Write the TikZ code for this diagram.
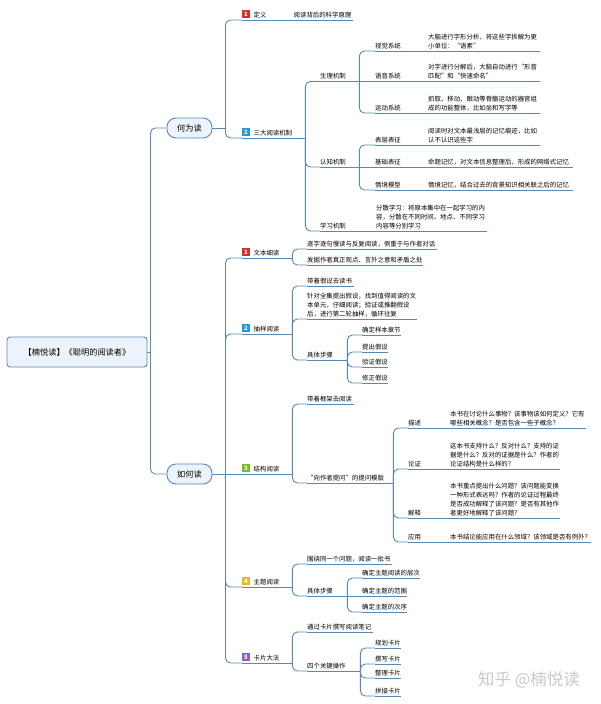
\documentclass[tikz,border=0pt]{standalone}
\usepackage{fontspec}
\setmainfont{Noto Sans CJK SC}
\definecolor{lc}{RGB}{88,136,180}
\definecolor{bgb}{RGB}{236,243,250}
\definecolor{bda}{RGB}{205,50,40}
\definecolor{bdb}{RGB}{40,150,215}
\definecolor{bdc}{RGB}{125,185,45}
\definecolor{bdd}{RGB}{240,180,40}
\definecolor{bde}{RGB}{140,95,200}
\definecolor{wmc}{RGB}{200,200,200}
\newcommand{\nbadge}[2]{\raisebox{-0.8pt}{\setlength{\fboxsep}{0pt}\colorbox{#1}{\makebox[7.5pt][c]{\rule{0pt}{7.5pt}\raisebox{1.5pt}{\color{white}\fontsize{6}{6}\selectfont\bfseries #2}}}}\hspace{4pt}}
\newcommand{\mlt}[2]{\parbox[b]{#1}{\raggedright #2}}
\tikzset{
  conn/.style={draw=lc, line width=0.9pt},
  rc/.style={rounded corners=5pt},
  lbl/.style={anchor=south west, inner xsep=0pt, inner ysep=1.7pt, text depth=1pt,
    font=\fontsize{6.4}{8.8}\selectfont,
    append after command={(\tikzlastnode.south west) edge[conn] (\tikzlastnode.south east)}},
  rootbox/.style={draw=lc, fill=bgb, rounded corners=3pt, minimum width=140pt,
    minimum height=30pt, inner sep=0pt, line width=0.9pt, font=\fontsize{8.2}{10}\selectfont},
  topbox/.style={draw=lc, fill=bgb, rounded corners=9pt, minimum width=45pt,
    minimum height=20pt, inner sep=0pt, line width=0.9pt, font=\fontsize{8.2}{10}\selectfont},
}
\begin{document}
\begin{tikzpicture}[x=1pt,y=-1pt]
\useasboundingbox (0,0) rectangle (600,704);

% root and top level
\node[rootbox] (root) at (77,352) {【楠悦读】《聪明的阅读者》};
\node[topbox] (hw) at (189.5,128) {何为读};
\node[topbox] (rh) at (189.5,474) {如何读};
\draw[conn] (root.east) -- ++(3,0) coordinate (rsp);
\draw[conn,rc] (rsp) |- (hw.west);
\draw[conn,rc] (rsp) |- (rh.west);

% ===== 何为读 =====
\draw[conn] (hw.east) -- ++(13,0) coordinate (hwsp);
\node[lbl,text width=48pt] (dy) at (242,20) {\nbadge{bda}{1}定义};
\node[lbl,text width=59.5pt] (dyk) at (293.5,20) {阅读背后的科学原理};
\draw[conn,rc] (hwsp) |- (dy.south west);
\draw[conn] (dy.south east) -- (dyk.south west);

\node[lbl,text width=63pt] (sd) at (242,138) {\nbadge{bdb}{2}三大阅读机制};
\draw[conn,rc] (hwsp) |- (sd.south west);

\node[lbl,text width=39pt] (sl) at (320,81.5) {生理机制};
\node[lbl,text width=39pt] (rz) at (320,167) {认知机制};
\node[lbl,text width=56pt] (xx) at (320,231) {学习机制};
\draw[conn,rc] (sd.south east) |- (sl.south west);
\draw[conn,rc] (sd.south east) |- (rz.south west);
\draw[conn,rc] (sd.south east) |- (xx.south west);

\node[lbl,text width=52pt] (sj) at (375,51) {视觉系统};
\node[lbl] (sjk) at (428,51) {\mlt{112pt}{大脑进行字形分析，将这些字拆解为更\\小单位：“语素”}};
\node[lbl,text width=52pt] (yy) at (375,81.5) {语音系统};
\node[lbl] (yyk) at (428,81.5) {\mlt{112pt}{对字进行分解后，大脑自动进行“形音\\匹配”和“快速命名”}};
\node[lbl,text width=52pt] (yd) at (375,113) {运动系统};
\node[lbl] (ydk) at (428,113) {\mlt{112pt}{抓取、移动、眼动等骨骼运动的器官组\\成的功能整体，比如坐和写字等}};
\draw[conn,rc] (sl.south east) |- (sj.south west);
\draw[conn] (sl.south east) -- (yy.south west);
\draw[conn,rc] (sl.south east) |- (yd.south west);
\draw[conn] (sj.south east) -- (sjk.south west);
\draw[conn] (yy.south east) -- (yyk.south west);
\draw[conn] (yd.south east) -- (ydk.south west);

\node[lbl,text width=52pt] (bc) at (375,145) {表层表征};
\node[lbl] (bck) at (428,145) {\mlt{112pt}{阅读时对文本最浅层的记忆痕迹，比如\\认不认识这些字}};
\node[lbl,text width=52pt] (jc) at (375,167) {基础表征};
\node[lbl,text width=145pt] (jck) at (428,167) {命题记忆，对文本信息整理后，形成的网络式记忆};
\node[lbl,text width=52pt] (qj) at (375,190) {情境模型};
\node[lbl,text width=145pt] (qjk) at (428,190) {情境记忆，结合过去的背景知识相关联之后的记忆};
\draw[conn,rc] (rz.south east) |- (bc.south west);
\draw[conn] (rz.south east) -- (jc.south west);
\draw[conn,rc] (rz.south east) |- (qj.south west);
\draw[conn] (bc.south east) -- (bck.south west);
\draw[conn] (jc.south east) -- (jck.south west);
\draw[conn] (qj.south east) -- (qjk.south west);

\node[lbl] (xxk) at (376,231) {\mlt{111pt}{分散学习：将原本集中在一起学习的内\\容，分散在不同时间、地点、不同学习\\内容等分别学习}};
\draw[conn] (xx.south east) -- (xxk.south west);

% ===== 如何读 =====
\draw[conn] (rh.east) -- ++(13,0) coordinate (rhsp);

\node[lbl,text width=50pt] (wb) at (242,258) {\nbadge{bda}{1}文本细读};
\node[lbl,text width=130pt] (wba) at (307,249) {逐字逐句慢读与反复阅读，侧重于与作者对话};
\node[lbl,text width=116pt] (wbb) at (307,265) {发掘作者真正观点、言外之意和矛盾之处};
\draw[conn,rc] (rhsp) |- (wb.south west);
\draw[conn,rc] (wb.south east) |- (wba.south west);
\draw[conn,rc] (wb.south east) |- (wbb.south west);

\node[lbl,text width=50pt] (cy) at (242,334) {\nbadge{bdb}{2}抽样阅读};
\node[lbl,text width=47pt] (cya) at (307,286) {带着假设去读书};
\node[lbl] (cyb) at (307,319) {\mlt{110pt}{针对全集提出假设，找到值得阅读的文\\本单元，仔细阅读；验证或推翻假设\\后，进行第二轮抽样，循环往复}};
\node[lbl,text width=40pt] (cyc) at (307,360) {具体步骤};
\draw[conn,rc] (rhsp) |- (cy.south west);
\draw[conn,rc] (cy.south east) |- (cya.south west);
\draw[conn,rc] (cy.south east) |- (cyb.south west);
\draw[conn,rc] (cy.south east) |- (cyc.south west);
\node[lbl,text width=38.5pt] (sa) at (362,335) {确定样本章节};
\node[lbl,text width=26pt] (sb) at (362,352) {提出假设};
\node[lbl,text width=26pt] (sc) at (362,367) {验证假设};
\node[lbl,text width=26pt] (se) at (362,383) {修正假设};
\draw[conn,rc] (cyc.south east) |- (sa.south west);
\draw[conn,rc] (cyc.south east) |- (sb.south west);
\draw[conn,rc] (cyc.south east) |- (sc.south west);
\draw[conn,rc] (cyc.south east) |- (se.south west);

\node[lbl,text width=50pt] (jg) at (242,474) {\nbadge{bdc}{3}结构阅读};
\node[lbl,text width=47pt] (jga) at (307,404) {带着框架去阅读};
\node[lbl,text width=86pt] (jgb) at (307,483) {“向作者提问”的提问模版};
\draw[conn] (rhsp) -- (jg.south west);
\draw[conn,rc] (jg.south east) |- (jga.south west);
\draw[conn,rc] (jg.south east) |- (jgb.south west);
\node[lbl,text width=42pt] (ms) at (408,428) {描述};
\node[lbl] (msk) at (450,428) {\mlt{136pt}{本书在讨论什么事物？该事物该如何定义？它有\\哪些相关概念？是否包含一些子概念？}};
\node[lbl,text width=42pt] (lz) at (408,469) {论证};
\node[lbl] (lzk) at (450,469) {\mlt{110pt}{这本书支持什么？反对什么？支持的证\\据是什么？反对的证据是什么？作者的\\论证结构是什么样的？}};
\node[lbl,text width=42pt] (js) at (408,518) {解释};
\node[lbl] (jsk) at (450,518) {\mlt{110pt}{本书重点提出什么问题？该问题能变换\\一种形式表达吗？作者的论证过程最终\\是否成功解释了该问题？是否有其他作\\者更好地解释了该问题？}};
\node[lbl,text width=42pt] (ay) at (408,542) {应用};
\node[lbl,text width=141pt] (ayk) at (450,542) {本书结论能应用在什么领域？该领域是否有例外？};
\draw[conn,rc] (jgb.south east) |- (ms.south west);
\draw[conn,rc] (jgb.south east) |- (lz.south west);
\draw[conn,rc] (jgb.south east) |- (js.south west);
\draw[conn,rc] (jgb.south east) |- (ay.south west);
\draw[conn] (ms.south east) -- (msk.south west);
\draw[conn] (lz.south east) -- (lzk.south west);
\draw[conn] (js.south east) -- (jsk.south west);
\draw[conn] (ay.south east) -- (ayk.south west);

\node[lbl,text width=50pt] (zt) at (242,587) {\nbadge{bdd}{4}主题阅读};
\node[lbl,text width=85pt] (zta) at (307,564) {围绕同一个问题，阅读一批书};
\node[lbl,text width=40pt] (ztb) at (307,596) {具体步骤};
\draw[conn,rc] (rhsp) |- (zt.south west);
\draw[conn,rc] (zt.south east) |- (zta.south west);
\draw[conn,rc] (zt.south east) |- (ztb.south west);
\node[lbl,text width=58pt] (ta) at (362,578) {确定主题阅读的层次};
\node[lbl,text width=45pt] (tb) at (362,596) {确定主题的范围};
\node[lbl,text width=45pt] (tc) at (362,612) {确定主题的次序};
\draw[conn,rc] (ztb.south east) |- (ta.south west);
\draw[conn] (ztb.south east) -- (tb.south west);
\draw[conn,rc] (ztb.south east) |- (tc.south west);

\node[lbl,text width=50pt] (kp) at (242,663) {\nbadge{bde}{5}卡片大法};
\node[lbl,text width=66pt] (kpa) at (307,632) {通过卡片撰写阅读笔记};
\node[lbl,text width=53pt] (kpb) at (307,671) {四个关键操作};
\draw[conn,rc] (rhsp) |- (kp.south west);
\draw[conn,rc] (kp.south east) |- (kpa.south west);
\draw[conn,rc] (kp.south east) |- (kpb.south west);
\node[lbl,text width=26pt] (ka) at (375,648) {规划卡片};
\node[lbl,text width=26pt] (kb) at (375,664) {撰写卡片};
\node[lbl,text width=26pt] (kc) at (375,678) {整理卡片};
\node[lbl,text width=26pt] (kd) at (375,696) {拼接卡片};
\draw[conn,rc] (kpb.south east) |- (ka.south west);
\draw[conn,rc] (kpb.south east) |- (kb.south west);
\draw[conn,rc] (kpb.south east) |- (kc.south west);
\draw[conn,rc] (kpb.south east) |- (kd.south west);

% watermark
\node[text=wmc, font=\fontsize{16.5}{16.5}\selectfont, inner sep=0pt] (wm) at (529,680) {知乎 @楠悦读};
\end{tikzpicture}
\end{document}
